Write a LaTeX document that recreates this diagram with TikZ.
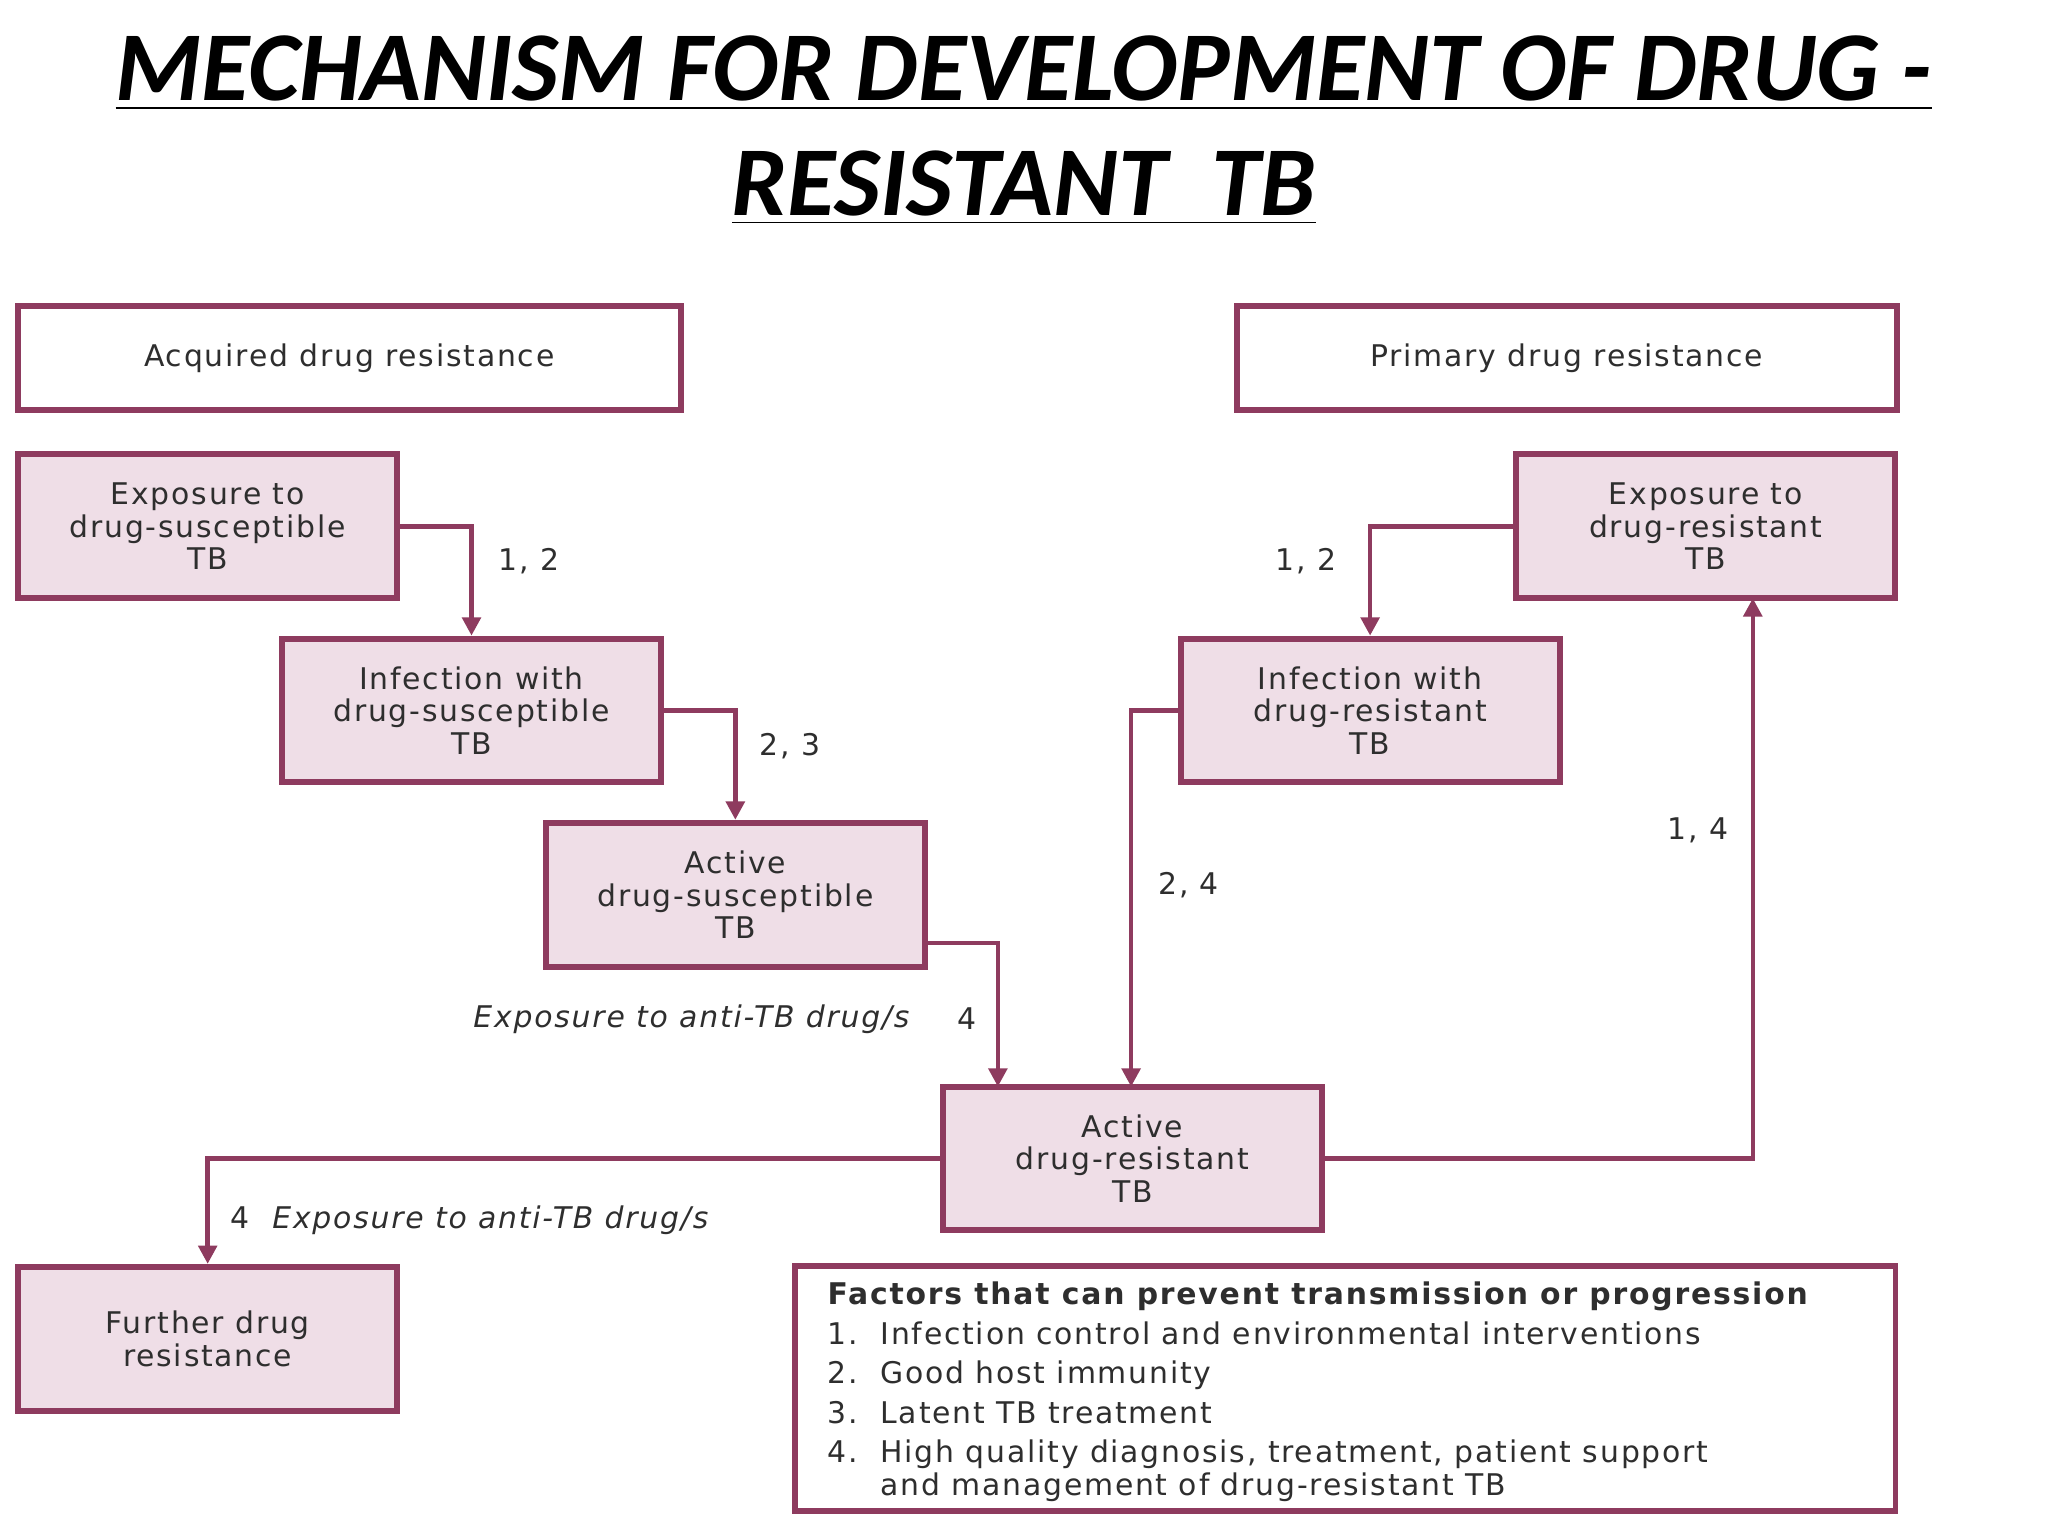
\documentclass[tikz,border=0pt]{standalone}
\usepackage{fontspec}
\setmainfont{DejaVu Sans}[LetterSpace=6]
\newfontfamily\titlefont{Carlito}
\usetikzlibrary{arrows.meta}
\definecolor{bord}{HTML}{8E3B5F}
\definecolor{pinkfill}{HTML}{EFDEE7}
\definecolor{txt}{HTML}{2E2E2E}
\begin{document}
\begin{tikzpicture}[x=0.01cm,y=-0.01cm,
  bx/.style={draw=bord,line width=1.3pt,fill=pinkfill,text=txt,font=\fontsize{6.5}{7.1}\selectfont,align=center,inner sep=0pt},
  hd/.style={draw=bord,line width=1.3pt,fill=white,text=txt,font=\fontsize{6.5}{7.1}\selectfont,inner sep=0pt},
  arr/.style={draw=bord,line width=1pt,-{Triangle[length=4pt,width=4pt]}},
  lb/.style={text=txt,font=\fontsize{6.5}{8}\selectfont,inner sep=0pt}]
\path[fill=white] (0,0) rectangle (1568,1176);
\useasboundingbox (0,0) rectangle (1568,1176);
\node[font=\titlefont\fontsize{21.5}{26}\selectfont\bfseries\itshape,align=center,text=black] (title) at (784,100)
 {\underline{MECHANISM FOR DEVELOPMENT OF DRUG -}\\[-1pt]\underline{RESISTANT\ \ TB}};
\node[hd,minimum width=5.07cm,minimum height=0.8cm] (acq) at (267.5,274) {Acquired drug resistance};
\node[hd,minimum width=5.05cm,minimum height=0.8cm] (pri) at (1199.5,274) {Primary drug resistance};
\tikzset{sb/.style={bx,minimum width=2.9cm,minimum height=1.1cm}}
\node[sb] (exps) at (159,403) {Exposure to\\drug-susceptible\\TB};
\node[sb] (infs) at (361,544) {Infection with\\drug-susceptible\\TB};
\node[sb] (acts) at (563,685) {Active\\drug-susceptible\\TB};
\node[sb] (actr) at (867,887) {Active\\drug-resistant\\TB};
\node[sb] (fur) at (159,1025) {Further drug\\resistance};
\node[sb] (expr) at (1306,403) {Exposure to\\drug-resistant\\TB};
\node[sb] (infr) at (1049,544) {Infection with\\drug-resistant\\TB};
\node[draw=bord,line width=1.3pt,fill=white,text=txt,minimum width=8.42cm,minimum height=1.88cm,inner sep=0pt] (fac) at (1030,1063) {};
\node[anchor=north west,text=txt,font=\fontsize{6.5}{8.6}\selectfont,align=left,inner sep=0pt] (factxt) at (633,981)
{\textbf{Factors that can prevent transmission or progression}\\
1.\ \ Infection control and environmental interventions\\
2.\ \ Good host immunity\\
3.\ \ Latent TB treatment\\
4.\ \ High quality diagnosis, treatment, patient support\\[-1.4pt]
\phantom{4.\ \ }and management of drug-resistant TB};
\draw[arr] (exps.east) -| (infs.north);
\draw[arr] (infs.east) -| (acts.north);
\draw[arr] (acts.east |- 0,722) -| (764,832);
\draw[arr] (expr.west) -| (infr.north);
\draw[arr] (infr.west) -| (866,832);
\draw[arr] (actr.east) -| (1342,458);
\draw[arr] (actr.west) -| (fur.north);
\node[lb] (l1) at (405,430) {1, 2};
\node[lb] (l2) at (605,571) {2, 3};
\node[lb] (l3) at (740,780) {4};
\node[lb,anchor=east] (l3b) at (697,780) {\itshape Exposure to anti-TB drug/s};
\node[lb] (l4) at (1000,430) {1, 2};
\node[lb] (l5) at (910,678) {2, 4};
\node[lb] (l6) at (1300,636) {1, 4};
\node[lb,anchor=west] (l7) at (176,934) {4\ \ \itshape Exposure to anti-TB drug/s};
\end{tikzpicture}
\end{document}
